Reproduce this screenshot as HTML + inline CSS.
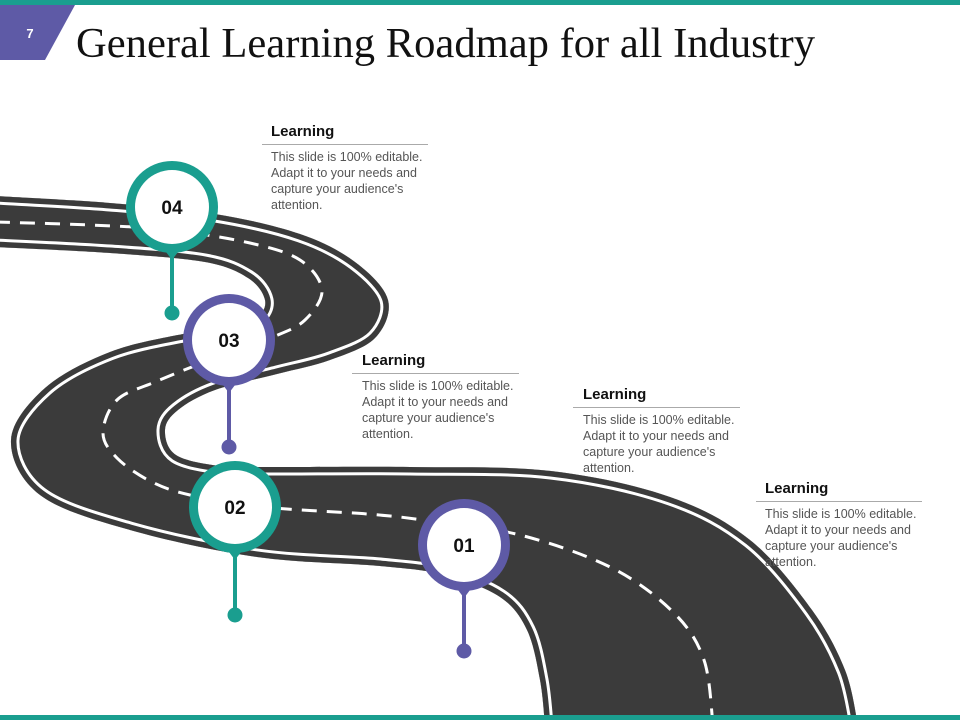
<!DOCTYPE html>
<html><head><meta charset="utf-8"><style>
html,body{margin:0;padding:0;background:#fff;}
svg{display:block;}
</style></head><body>
<svg id="s" width="960" height="720" viewBox="0 0 960 720" xmlns="http://www.w3.org/2000/svg">
<defs><clipPath id="rc"><path id="rcp" d=""/></clipPath></defs>
<rect x="0" y="0" width="960" height="720" fill="#fff"/>
<path id="road" fill="#3b3b3b" d=""/>
<g clip-path="url(#rc)" fill="none">
  <path class="ea" stroke="#fff" stroke-width="17" d=""/>
  <path class="eb" stroke="#fff" stroke-width="17" d=""/>
  <path class="ea" stroke="#3b3b3b" stroke-width="11" d=""/>
  <path class="eb" stroke="#3b3b3b" stroke-width="11" d=""/>
</g>
<path id="cl" fill="none" stroke="#fff" stroke-width="3" stroke-dasharray="15 10" d=""/>

<rect x="0" y="0" width="960" height="5" fill="#1a9e8f"/>
<polygon points="0,5 75,5 45,60 0,60" fill="#5e5aa6"/>
<text x="30" y="38" fill="#fff" font-family="Liberation Sans, sans-serif" font-weight="bold" font-size="13" text-anchor="middle">7</text>
<text x="76" y="57" font-family="Liberation Serif, serif" font-size="42" fill="#111" textLength="739" lengthAdjust="spacingAndGlyphs">General Learning Roadmap for all Industry</text>
<rect x="0" y="715" width="960" height="5" fill="#1a9e8f"/>

<g font-family="Liberation Sans, sans-serif" font-weight="bold" font-size="19" text-anchor="middle" fill="#111">
  <g fill="#1a9e8f" stroke="none">
    <line x1="172" y1="250" x2="172" y2="313" stroke="#1a9e8f" stroke-width="4"/>
    <circle cx="172" cy="313" r="7.5"/>
    <polygon points="163,248 181,248 172,260"/>
    <circle cx="172" cy="207" r="46"/>
    <circle cx="172" cy="207" r="37" fill="#fff"/>
  </g>
  <text x="172" y="214">04</text>
  <g fill="#5e5aa6">
    <line x1="229" y1="383" x2="229" y2="447" stroke="#5e5aa6" stroke-width="4"/>
    <circle cx="229" cy="447" r="7.5"/>
    <polygon points="220,381 238,381 229,393"/>
    <circle cx="229" cy="340" r="46"/>
    <circle cx="229" cy="340" r="37" fill="#fff"/>
  </g>
  <text x="229" y="347">03</text>
  <g fill="#1a9e8f">
    <line x1="235" y1="550" x2="235" y2="615" stroke="#1a9e8f" stroke-width="4"/>
    <circle cx="235" cy="615" r="7.5"/>
    <polygon points="226,548 244,548 235,560"/>
    <circle cx="235" cy="507" r="46"/>
    <circle cx="235" cy="507" r="37" fill="#fff"/>
  </g>
  <text x="235" y="514">02</text>
  <g fill="#5e5aa6">
    <line x1="464" y1="588" x2="464" y2="651" stroke="#5e5aa6" stroke-width="4"/>
    <circle cx="464" cy="651" r="7.5"/>
    <polygon points="455,586 473,586 464,598"/>
    <circle cx="464" cy="545" r="46"/>
    <circle cx="464" cy="545" r="37" fill="#fff"/>
  </g>
  <text x="464" y="552">01</text>
</g>

<g font-family="Liberation Sans, sans-serif">
  <g>
    <text x="271" y="136" font-weight="bold" font-size="15" fill="#111">Learning</text>
    <line x1="262" y1="144.5" x2="428" y2="144.5" stroke="#aaa" stroke-width="1"/>
    <g font-size="12.5" fill="#555">
      <text x="271" y="161">This slide is 100% editable.</text>
      <text x="271" y="177">Adapt it to your needs and</text>
      <text x="271" y="193">capture your audience's</text>
      <text x="271" y="209">attention.</text>
    </g>
  </g>
  <g>
    <text x="362" y="365" font-weight="bold" font-size="15" fill="#111">Learning</text>
    <line x1="352" y1="373.5" x2="519" y2="373.5" stroke="#aaa" stroke-width="1"/>
    <g font-size="12.5" fill="#555">
      <text x="362" y="390">This slide is 100% editable.</text>
      <text x="362" y="406">Adapt it to your needs and</text>
      <text x="362" y="422">capture your audience's</text>
      <text x="362" y="438">attention.</text>
    </g>
  </g>
  <g>
    <text x="583" y="399" font-weight="bold" font-size="15" fill="#111">Learning</text>
    <line x1="573" y1="407.5" x2="740" y2="407.5" stroke="#aaa" stroke-width="1"/>
    <g font-size="12.5" fill="#555">
      <text x="583" y="424">This slide is 100% editable.</text>
      <text x="583" y="440">Adapt it to your needs and</text>
      <text x="583" y="456">capture your audience's</text>
      <text x="583" y="472">attention.</text>
    </g>
  </g>
  <g>
    <text x="765" y="493" font-weight="bold" font-size="15" fill="#111">Learning</text>
    <line x1="756" y1="501.5" x2="922" y2="501.5" stroke="#aaa" stroke-width="1"/>
    <g font-size="12.5" fill="#555">
      <text x="765" y="518">This slide is 100% editable.</text>
      <text x="765" y="534">Adapt it to your needs and</text>
      <text x="765" y="550">capture your audience's</text>
      <text x="765" y="566">attention.</text>
    </g>
  </g>
</g>
</svg>
<script>
(function(){
function cr(p){
  var d="M"+p[0][0]+","+p[0][1];
  for(var i=0;i<p.length-1;i++){
    var p0=p[i-1]||p[i],p1=p[i],p2=p[i+1],p3=p[i+2]||p[i+1];
    var c1=[p1[0]+(p2[0]-p0[0])/6,p1[1]+(p2[1]-p0[1])/6];
    var c2=[p2[0]-(p3[0]-p1[0])/6,p2[1]-(p3[1]-p1[1])/6];
    d+=" C"+c1[0].toFixed(1)+","+c1[1].toFixed(1)+" "+c2[0].toFixed(1)+","+c2[1].toFixed(1)+" "+p2[0]+","+p2[1];
  }
  return d;
}
var A=[[-5,196],[110,203],[215,214],[300,234],[355,262],[388,300],[375,338],[330,360],[277,374],[215,390],[178,410],[165,430],[176,455],[220,466],[270,467],[410,467],[551,471],[670,497],[750,540],[812,610],[845,670],[858,725]];
var B=[[-5,247],[110,253],[205,262],[248,278],[265,300],[257,318],[230,328],[183,334],[110,352],[45,388],[11,440],[40,495],[130,530],[257,557],[380,566],[445,575],[500,597],[527,630],[540,680],[545,725]];
var C=[[-5,222],[90,225],[170,230],[250,243],[300,260],[322,290],[305,320],[273,337],[210,360],[155,382],[117,400],[103,433],[117,458],[150,481],[190,495],[263,507],[367,514],[423,520],[520,535],[612,568],[674,613],[704,660],[713,725]];
var dA=cr(A), dB=cr(B);
var Br=B.slice().reverse();
var dBr=cr(Br);
var poly=dA+" L"+Br[0][0]+","+Br[0][1]+" "+dBr.slice(dBr.indexOf("C"))+" Z";
document.getElementById("road").setAttribute("d",poly);
document.getElementById("rcp").setAttribute("d",poly);
var ea=document.querySelectorAll(".ea"),eb=document.querySelectorAll(".eb");
for(var i=0;i<ea.length;i++)ea[i].setAttribute("d",dA);
for(var i=0;i<eb.length;i++)eb[i].setAttribute("d",dB);
document.getElementById("cl").setAttribute("d",cr(C));
})();
</script>
</body></html>
